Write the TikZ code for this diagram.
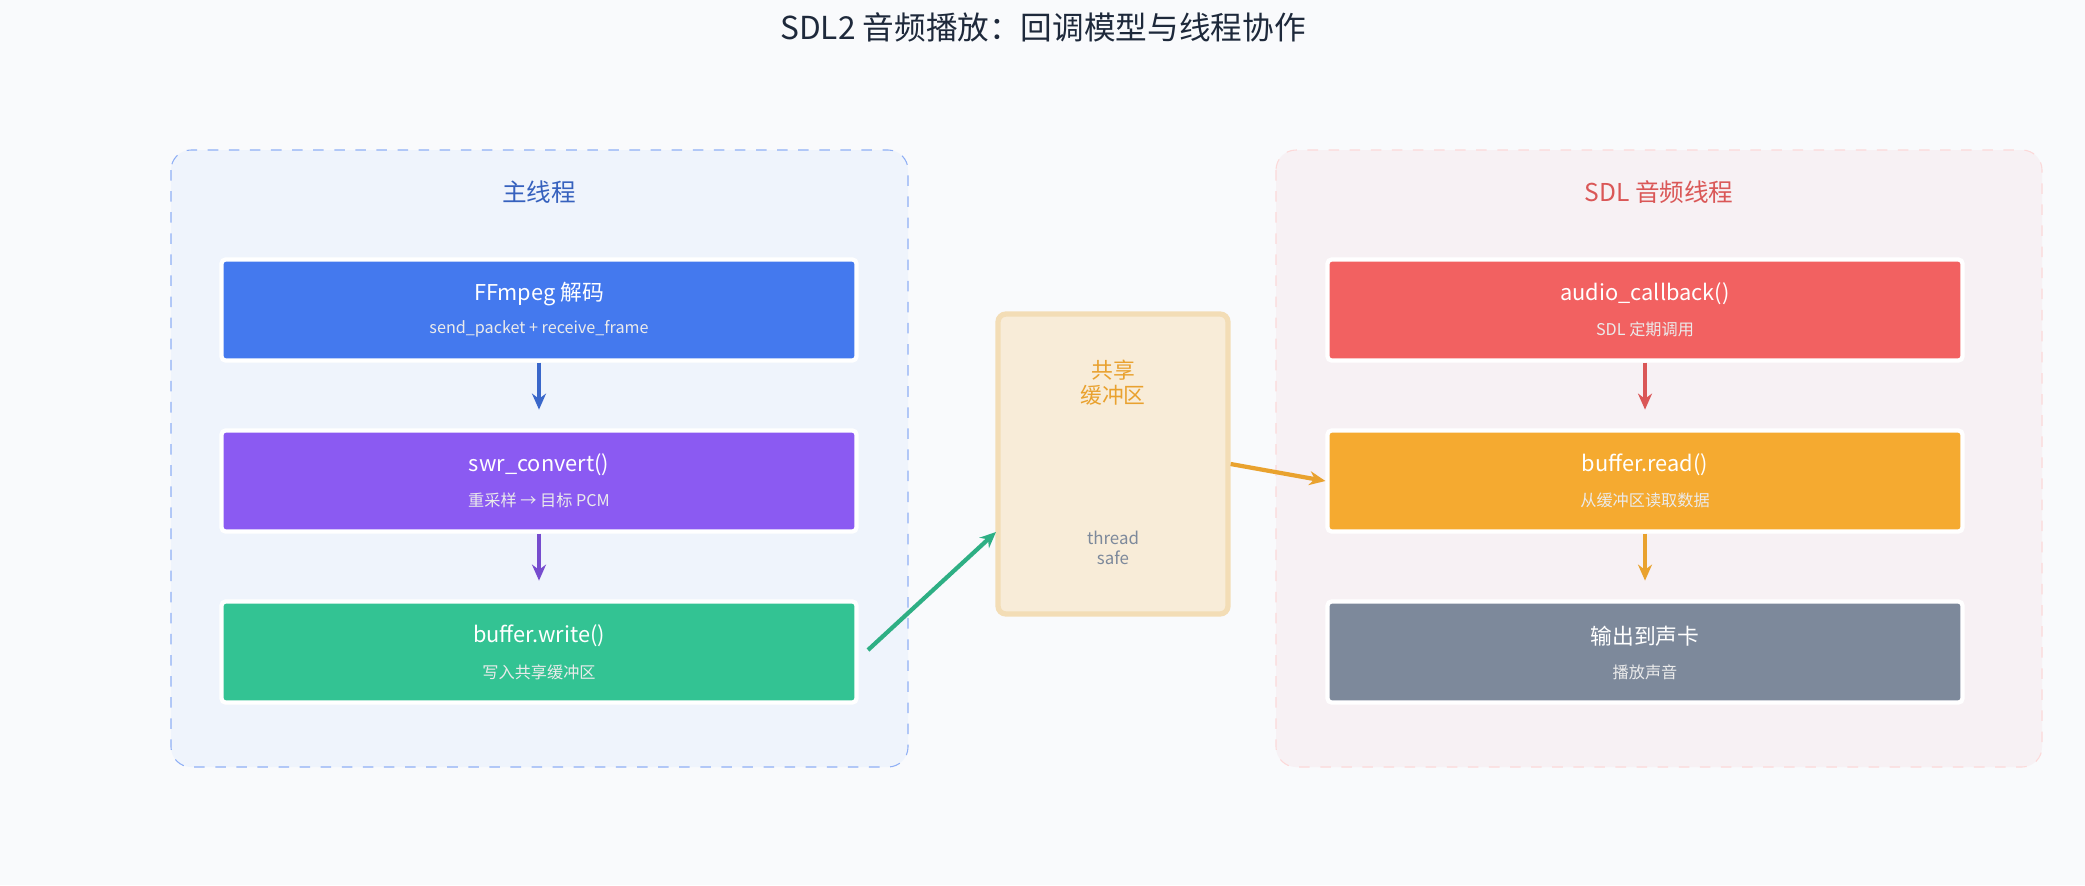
\documentclass[tikz,border=0pt]{standalone}
\usepackage{fontspec}
\setmainfont{Noto Sans CJK SC}
\usetikzlibrary{arrows.meta}
\definecolor{bgpage}{HTML}{F9FAFC}
\definecolor{mainpanel}{HTML}{EFF4FC}
\definecolor{sdlpanel}{HTML}{F7F1F4}
\definecolor{cblue}{HTML}{4479EE}
\definecolor{cpurple}{HTML}{8B5AF2}
\definecolor{cgreen}{HTML}{33C393}
\definecolor{cred}{HTML}{F26161}
\definecolor{corange}{HTML}{F5AA30}
\definecolor{cgray}{HTML}{7D899B}
\definecolor{bufill}{HTML}{F8ECD8}
\definecolor{buline}{HTML}{F3DDB6}
\definecolor{titlec}{HTML}{1E293B}
\begin{document}
\begin{tikzpicture}[x=0.1mm,y=-0.1mm,
  panel/.style={draw=#1!60!white,dashed,rounded corners=2mm,line width=0.3pt},
  stepbox/.style={draw=white,line width=1.2pt,rounded corners=0.4mm,minimum width=63.5mm,minimum height=10.1mm,inner sep=0pt},
  boxtitle/.style={text=white,font=\fontsize{6.2}{7}\selectfont},
  boxsub/.style={text=white!92!black,font=\fontsize{4.6}{5}\selectfont},
  flow/.style={-{Stealth[length=1.6mm,width=1.4mm]},line width=1.2pt,draw=#1}]
\fill[bgpage] (0,0) rectangle (2085,885);
\node[text=titlec,font=\fontsize{9}{10}\selectfont] (title) at (1043,27) {SDL2 音频播放：回调模型与线程协作};
% main thread
\filldraw[fill=mainpanel,panel=cblue] (171,150) rectangle (908,767);
\node[text=cblue!80!black,font=\fontsize{7}{8}\selectfont] (mainlbl) at (539,192) {主线程};
\node[stepbox,fill=cblue] (decode) at (539,310) {};
\node[boxtitle] at (539,294) {FFmpeg 解码};
\node[boxsub] at (539,329) {send\_packet + receive\_frame};
\node[stepbox,fill=cpurple] (swr) at (539,481) {};
\node[boxtitle] at (539,465) {swr\_convert()};
\node[boxsub] at (539,500) {重采样 → 目标 PCM};
\node[stepbox,fill=cgreen] (write) at (539,652) {};
\node[boxtitle] at (539,636) {buffer.write()};
\node[boxsub] at (539,672) {写入共享缓冲区};
\draw[flow=cblue!85!black] (decode.south) -- ++(0,47);
\draw[flow=cpurple!85!black] (swr.south) -- ++(0,47);
% shared buffer
\node[draw=buline,fill=bufill,line width=1.5pt,rounded corners=0.8mm,minimum width=23mm,minimum height=30mm] (buf) at (1113,464) {};
\node[text=corange!95!black,align=center,font=\fontsize{6.2}{7.2}\selectfont] at (1113,383) {共享\\缓冲区};
\node[text=cgray,align=center,font=\fontsize{4.8}{5.6}\selectfont] at (1113,548) {thread\\safe};
\coordinate (wout) at (868,650);
\coordinate (bin) at (996,532);
\draw[flow=cgreen!90!black] (wout) -- (bin);
% sdl thread
\filldraw[fill=sdlpanel,panel=cred!40!white] (1276,150) rectangle (2042,767);
\node[text=cred!90!black,font=\fontsize{7}{8}\selectfont] (sdllbl) at (1659,192) {SDL 音频线程};
\node[stepbox,fill=cred] (cb) at (1645,310) {};
\node[boxtitle] at (1645,294) {audio\_callback()};
\node[boxsub] at (1645,329) {SDL 定期调用};
\node[stepbox,fill=corange] (read) at (1645,481) {};
\node[boxtitle] at (1645,465) {buffer.read()};
\node[boxsub] at (1645,500) {从缓冲区读取数据};
\node[stepbox,fill=cgray] (out) at (1645,652) {};
\node[boxtitle] at (1645,636) {输出到声卡};
\node[boxsub] at (1645,672) {播放声音};
\draw[flow=cred!90!black] (cb.south) -- ++(0,47);
\draw[flow=corange!95!black] (read.south) -- ++(0,47);
\draw[flow=corange!95!black] (buf.east) -- (read.west);
\end{tikzpicture}
\end{document}
